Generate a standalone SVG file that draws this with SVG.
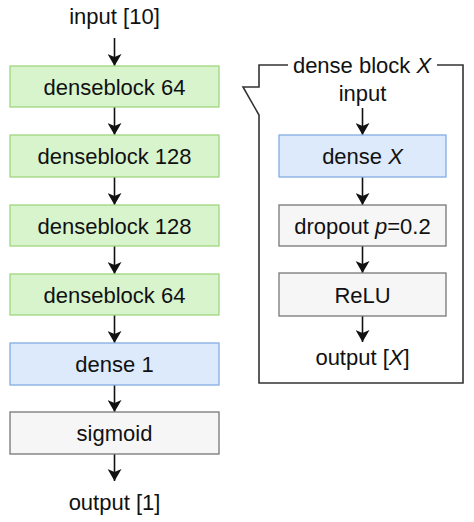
<svg xmlns="http://www.w3.org/2000/svg" width="474" height="522" viewBox="0 0 474 522">
<defs>
<style>
text{font-family:"Liberation Sans",Arial,sans-serif;font-size:22px;fill:#111;text-anchor:middle}
.g{fill:#d8f4cc;stroke:#9fd67f;stroke-width:1.3}
.b{fill:#dceafb;stroke:#85ade2;stroke-width:1.3}
.s{fill:#f6f6f6;stroke:#777;stroke-width:1.3}
.c{stroke:#111;stroke-width:1.6;fill:none;marker-end:url(#ah)}
</style>
<marker id="ah" markerWidth="12" markerHeight="14" viewBox="-12 -7 12 14" refX="0" refY="0" orient="auto" markerUnits="userSpaceOnUse">
<path d="M0,0 L-12,-7 L-9,0 L-12,7 z" fill="#111"/>
</marker>
</defs>
<rect width="474" height="522" fill="#fff"/>
<g id="connectors">
<line class="c" x1="114.5" y1="38" x2="114.5" y2="66"/>
<line class="c" x1="114.5" y1="107" x2="114.5" y2="135"/>
<line class="c" x1="114.5" y1="177" x2="114.5" y2="205"/>
<line class="c" x1="114.5" y1="246" x2="114.5" y2="274"/>
<line class="c" x1="114.5" y1="315" x2="114.5" y2="343"/>
<line class="c" x1="114.5" y1="385" x2="114.5" y2="412"/>
<line class="c" x1="114.5" y1="454" x2="114.5" y2="481"/>
<line class="c" x1="362.5" y1="108" x2="362.5" y2="135"/>
<line class="c" x1="362.5" y1="177" x2="362.5" y2="205"/>
<line class="c" x1="362.5" y1="246" x2="362.5" y2="273"/>
<line class="c" x1="362.5" y1="316" x2="362.5" y2="342"/>
</g>
<g id="input"><text x="114.5" y="24">input [10]</text></g>
<g id="db64a"><rect class="g" x="10" y="66" width="209" height="41"/><text x="114.5" y="94.5">denseblock 64</text></g>
<g id="db128a"><rect class="g" x="10" y="135" width="209" height="42"/><text x="114.5" y="164">denseblock 128</text></g>
<g id="db128b"><rect class="g" x="10" y="205" width="209" height="41"/><text x="114.5" y="233.5">denseblock 128</text></g>
<g id="db64b"><rect class="g" x="10" y="274" width="209" height="41"/><text x="114.5" y="302.5">denseblock 64</text></g>
<g id="dense1"><rect class="b" x="10" y="343" width="209" height="42"/><text x="114.5" y="372">dense 1</text></g>
<g id="sigmoid"><rect class="s" x="10" y="412" width="209" height="42"/><text x="114.5" y="441">sigmoid</text></g>
<g id="output"><text x="114.5" y="510">output [1]</text></g>
<g id="block">
<path d="M288,65 L259,65 L259,87 L243,87 L259,115 L259,383 L463,383 L463,65 L437,65" fill="none" stroke="#333" stroke-width="1.6"/>
<text x="362" y="73">dense block <tspan font-style="italic">X</tspan></text>
</g>
<g id="binput"><text x="362.5" y="101">input</text></g>
<g id="denseX"><rect class="b" x="279" y="135" width="167" height="42"/><text x="362.5" y="164">dense <tspan font-style="italic">X</tspan></text></g>
<g id="dropout"><rect class="s" x="279" y="205" width="167" height="41"/><text x="362.5" y="233.5">dropout <tspan font-style="italic">p</tspan>=0.2</text></g>
<g id="relu"><rect class="s" x="279" y="273" width="167" height="43"/><text x="362.5" y="302.5">ReLU</text></g>
<g id="boutput"><text x="362.5" y="365">output [<tspan font-style="italic">X</tspan>]</text></g>
</svg>
